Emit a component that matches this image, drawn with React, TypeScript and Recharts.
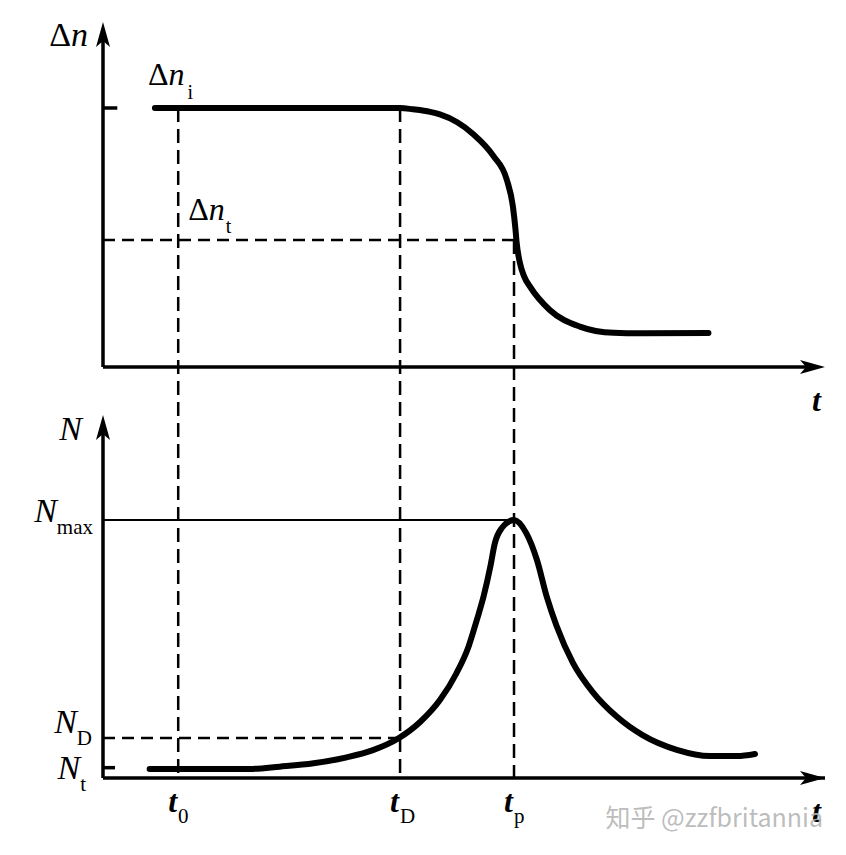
import React from 'react';
import { LineChart, Line, XAxis, YAxis, ReferenceLine, ReferenceDot } from 'recharts';

const SERIF = '"Liberation Serif", "Times New Roman", serif';

// ---- time axis ----
const T_MAX = 9.6;
const markTimes = [1.0, 3.95, 5.465]; // t0, tD, tp
const markSubs = ['0', 'D', 'p'];

// ---- Δn panel ----
const DN_DOMAIN = [-1.587, 1.332];
const DN_I = 1.0;
const DN_T = 0.49;
const dnTimes = [0.69, 3.95, 4.12, 4.35, 4.48, 4.71, 4.92, 5.19, 5.37, 5.45, 5.485, 5.5, 5.545, 5.598, 5.678, 5.94, 6.34, 6.79, 7.14, 8.05];
const dnValues = [1.0, 1.0, 0.995, 0.985, 0.975, 0.945, 0.9, 0.815, 0.722, 0.62, 0.53, 0.48, 0.4, 0.351, 0.31, 0.22, 0.156, 0.132, 0.13, 0.131];

// ---- N panel ----
const N_DOMAIN = [0, 2.93];
const N_AXIS_TOP = 1.407;
const nLevels = [0.04, 0.155, 1.0]; // N_t, N_D, N_max
const nSubs = ['t', 'D', 'max'];
const nTimes = [0.62, 1.95, 2.35, 2.8, 3.24, 3.59, 3.93, 4.22, 4.48, 4.7, 4.86, 4.97, 5.06, 5.15, 5.21, 5.3, 5.465, 5.63, 5.77, 5.9, 6.03, 6.25, 6.52, 6.83, 7.18, 7.63, 8.07, 8.43, 8.67];
const nValues = [0.035, 0.035, 0.044, 0.057, 0.08, 0.108, 0.154, 0.218, 0.302, 0.406, 0.509, 0.612, 0.703, 0.819, 0.91, 0.968, 1.0, 0.948, 0.845, 0.703, 0.59, 0.445, 0.33, 0.238, 0.165, 0.109, 0.085, 0.085, 0.093];

const dnData = dnTimes.map((t, i) => ({ t, v: dnValues[i] }));
const nData = nTimes.map((t, i) => ({ t, v: nValues[i] }));

const AXIS_W = 3.5;
const DASH_H = '12 7';
const DASH_V = '14 7';

const arrowRight = (props: any) => {
  const { cx, cy } = props;
  return <polygon points={`${cx},${cy} ${cx - 25},${cy - 7} ${cx - 19},${cy} ${cx - 25},${cy + 7}`} fill="#000" />;
};
const arrowUp = (props: any) => {
  const { cx, cy } = props;
  return <polygon points={`${cx},${cy} ${cx - 7},${cy + 25} ${cx},${cy + 19} ${cx + 7},${cy + 25}`} fill="#000" />;
};

const dnAxisLabel = (props: any) => {
  const { cx, cy } = props;
  return (
    <g>
      {arrowUp(props)}
      <text x={cx - 15} y={cy + 24} textAnchor="end" fontFamily={SERIF} fontSize={34} fill="#000">
        <tspan>Δ</tspan><tspan fontStyle="italic">n</tspan>
      </text>
    </g>
  );
};
const nAxisLabel = (props: any) => {
  const { cx, cy } = props;
  return (
    <g>
      {arrowUp(props)}
      <text x={cx - 21} y={cy + 25} textAnchor="end" fontFamily={SERIF} fontSize={34} fontStyle="italic" fill="#000">N</text>
    </g>
  );
};
const tAxisLabel = (props: any) => {
  const { cx, cy } = props;
  return (
    <g>
      {arrowRight(props)}
      <text x={cx - 13} y={cy + 44} fontFamily={SERIF} fontSize={32} fontStyle="italic" fontWeight="bold" fill="#000">t</text>
    </g>
  );
};
const dnILabel = (props: any) => {
  const { cx, cy } = props;
  return (
    <text x={cx - 7} y={cy - 23} fontFamily={SERIF} fontSize={32} fill="#000">
      <tspan>Δ</tspan><tspan fontStyle="italic">n</tspan>
      <tspan fontSize={20} dx={3} dy={14}>i</tspan>
    </text>
  );
};
const dnTLabel = (props: any) => {
  const { cx, cy } = props;
  return (
    <text x={cx + 10} y={cy - 20} fontFamily={SERIF} fontSize={32} fill="#000">
      <tspan>Δ</tspan><tspan fontStyle="italic">n</tspan>
      <tspan fontSize={20} dx={1} dy={13}>t</tspan>
    </text>
  );
};

const TimeTick = (props: any) => {
  const { x, y, payload } = props;
  const idx = markTimes.indexOf(payload.value);
  return (
    <text x={x - 10} y={y + 34} fontFamily={SERIF} fill="#000">
      <tspan fontStyle="italic" fontWeight="bold" fontSize={32}>t</tspan>
      <tspan fontSize={21} dx={1} dy={11}>{markSubs[idx]}</tspan>
    </text>
  );
};

const nTickBase = [11, -5, 2];
const nTickRight = [17, 11, 10];
const NTick = (props: any) => {
  const { x, y, payload } = props;
  const idx = nLevels.indexOf(payload.value);
  return (
    <text x={x - nTickRight[idx]} y={y + nTickBase[idx]} textAnchor="end" fontFamily={SERIF} fill="#000">
      <tspan fontStyle="italic" fontSize={34}>N</tspan>
      <tspan fontSize={21} dy={12}>{nSubs[idx]}</tspan>
    </text>
  );
};

export default function App() {
  const [t0, tD, tp] = markTimes;
  const [nT, nD, nMax] = nLevels;
  return (
    <div style={{ position: 'absolute', left: 0, top: 0, width: 846, height: 855, background: '#fff' }}>
      <LineChart width={846} height={855} margin={{ top: 22, right: 21, bottom: 0, left: 0 }}>
        <XAxis
          dataKey="t"
          type="number"
          domain={[0, T_MAX]}
          allowDataOverflow
          ticks={markTimes}
          height={77}
          tickSize={0}
          tickMargin={0}
          tickLine={false}
          axisLine={{ stroke: '#000', strokeWidth: AXIS_W }}
          tick={<TimeTick />}
        />
        <YAxis
          yAxisId="N"
          type="number"
          domain={N_DOMAIN}
          allowDataOverflow
          ticks={nLevels}
          width={103}
          tickSize={0}
          tickMargin={0}
          tickLine={false}
          axisLine={false}
          tick={<NTick />}
        />
        <YAxis yAxisId="dn" type="number" domain={DN_DOMAIN} allowDataOverflow hide />

        {/* Δn panel axes */}
        <ReferenceLine yAxisId="dn" ifOverflow="visible" segment={[{ x: 0, y: 0 }, { x: 0, y: DN_DOMAIN[1] - 0.05 }]} stroke="#000" strokeWidth={AXIS_W} />
        <ReferenceLine yAxisId="dn" ifOverflow="visible" segment={[{ x: 0, y: 0 }, { x: T_MAX - 0.1, y: 0 }]} stroke="#000" strokeWidth={AXIS_W} />
        <ReferenceLine yAxisId="dn" ifOverflow="visible" segment={[{ x: 0, y: DN_I }, { x: 0.19, y: DN_I }]} stroke="#000" strokeWidth={AXIS_W} />
        {/* N panel y axis */}
        <ReferenceLine yAxisId="N" ifOverflow="visible" segment={[{ x: 0, y: 0 }, { x: 0, y: N_AXIS_TOP - 0.05 }]} stroke="#000" strokeWidth={AXIS_W} />
        <ReferenceLine yAxisId="N" ifOverflow="visible" segment={[{ x: 0, y: nT }, { x: 0.16, y: nT }]} stroke="#000" strokeWidth={AXIS_W} />

        {/* guide lines */}
        <ReferenceLine yAxisId="dn" ifOverflow="visible" segment={[{ x: 0, y: DN_T }, { x: tp, y: DN_T }]} stroke="#000" strokeWidth={2.5} strokeDasharray={DASH_H} />
        <ReferenceLine yAxisId="N" ifOverflow="visible" segment={[{ x: 0, y: nD }, { x: tD, y: nD }]} stroke="#000" strokeWidth={2.5} strokeDasharray={DASH_H} />
        <ReferenceLine yAxisId="N" ifOverflow="visible" segment={[{ x: 0, y: nMax }, { x: tp, y: nMax }]} stroke="#000" strokeWidth={2.2} />
        <ReferenceLine yAxisId="dn" ifOverflow="visible" segment={[{ x: t0, y: DN_I }, { x: t0, y: DN_DOMAIN[0] }]} stroke="#000" strokeWidth={2.5} strokeDasharray={DASH_V} />
        <ReferenceLine yAxisId="dn" ifOverflow="visible" segment={[{ x: tD, y: DN_I }, { x: tD, y: DN_DOMAIN[0] }]} stroke="#000" strokeWidth={2.5} strokeDasharray={DASH_V} />
        <ReferenceLine yAxisId="dn" ifOverflow="visible" segment={[{ x: tp, y: DN_T }, { x: tp, y: DN_DOMAIN[0] }]} stroke="#000" strokeWidth={2.5} strokeDasharray={DASH_V} />

        <Line yAxisId="dn" data={dnData} dataKey="v" type="monotone" stroke="#000" strokeWidth={6} strokeLinecap="round" dot={false} activeDot={false} isAnimationActive={false} />
        <Line yAxisId="N" data={nData} dataKey="v" type="monotone" stroke="#000" strokeWidth={6} strokeLinecap="round" dot={false} activeDot={false} isAnimationActive={false} />

        {/* arrows and labels */}
        <ReferenceDot yAxisId="dn" x={0} y={DN_DOMAIN[1]} ifOverflow="visible" shape={dnAxisLabel} />
        <ReferenceDot yAxisId="dn" x={T_MAX} y={0} ifOverflow="visible" shape={tAxisLabel} />
        <ReferenceDot yAxisId="N" x={0} y={N_AXIS_TOP} ifOverflow="visible" shape={nAxisLabel} />
        <ReferenceDot yAxisId="N" x={T_MAX} y={0} ifOverflow="visible" shape={tAxisLabel} />
        <ReferenceDot yAxisId="dn" x={dnTimes[0]} y={DN_I} ifOverflow="visible" shape={dnILabel} />
        <ReferenceDot yAxisId="dn" x={t0} y={DN_T} ifOverflow="visible" shape={dnTLabel} />
      </LineChart>
      <svg width={846} height={855} style={{ position: 'absolute', left: 0, top: 0, pointerEvents: 'none' }}>
        <text x={823} y={827} textAnchor="end" fontFamily='"Noto Sans CJK SC", "Noto Sans", sans-serif' fontSize={25} fill="#b4b4b4" fillOpacity={0.9}>知乎 @zzfbritannia</text>
      </svg>
    </div>
  );
}
